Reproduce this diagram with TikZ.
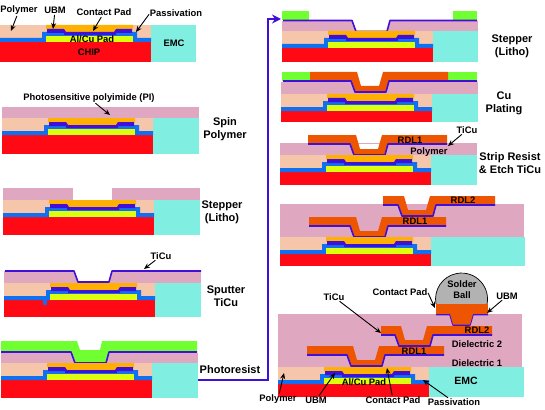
\documentclass[tikz,border=0pt]{standalone}
\usepackage{fontspec}
\setmainfont{Liberation Sans}
\usetikzlibrary{calc, positioning, arrows.meta}
\definecolor{peach}{RGB}{245, 198, 170}
\definecolor{pilayer}{RGB}{224, 168, 192}
\definecolor{chipred}{RGB}{255, 10, 20}
\definecolor{emcteal}{RGB}{128, 238, 224}
\definecolor{passblue}{RGB}{16, 112, 240}
\definecolor{padyellow}{RGB}{220, 255, 16}
\definecolor{ubmblue}{RGB}{64, 16, 216}
\definecolor{padorange}{RGB}{255, 176, 0}
\definecolor{resistgreen}{RGB}{112, 255, 48}
\definecolor{rdlorange}{RGB}{238, 85, 0}
\tikzset{
  lbl/.style={font=\fontsize{9.4}{10.5}\selectfont\bfseries, inner sep=0pt, align=center},
  biglbl/.style={font=\fontsize{11}{13}\selectfont\bfseries, inner sep=0pt, align=center},
  leader/.style={-{Stealth[length=6pt,width=5pt]}, line width=0.9pt, black, shorten <=1pt},
  flow/.style={-{Stealth[length=9pt,width=9pt]}, line width=1.8pt, ubmblue},
  film/.style={line width=1.6pt, ubmblue, line join=round}
}
% chip, passivation, pad, UBM and polymer: x, y, height, EMC width
\newcommand{\chipstack}[4]{
  \begin{scope}[shift={(#1,#2)}]
    \fill[peach] (0,0) rectangle (151,17);
    \fill[emcteal] (151,0) rectangle (151+#4,#3);
    \fill[chipred] (0,17) rectangle (151,#3);
    \fill[passblue] (0,13) -- (42,13) -- (42,7) -- (137,7) -- (137,13) -- (151,13) -- (151,17) -- (0,17) -- cycle;
    \fill[padyellow] (46,11) rectangle (133,17);
    \fill[padorange] (46,0) -- (133,0) -- (133,4) -- (116,4) -- (116,7) -- (64,7) -- (64,4) -- (46,4) -- cycle;
    \fill[ubmblue] (47,4) -- (64,4) -- (66,7) -- (114,7) -- (116,4) -- (132,4) -- (132,8) -- (116,8) -- (116,10) -- (64,10) -- (64,8) -- (47,8) -- cycle;
  \end{scope}
}
% TiCu seed line with one via: left, right, via x, level
\newcommand{\ticufilm}[4]{
  \draw[film] (#1,#4) -- (#3,#4) -- (#3+4,#4+11) -- (#3+35,#4+11) -- (#3+38,#4) -- (#2,#4);
}
\newcommand{\viahole}[3]{
  \fill[#3] (#1,#2) -- (#1+4,#2+11) -- (#1+35,#2+11) -- (#1+38,#2) -- cycle;
}
% copper line with notch over the via: left, right, via x, top
\newcommand{\rdlfill}[4]{
  \fill[rdlorange] (#1,#4) -- (#3+6,#4) -- (#3+10,#4+14) -- (#3+28,#4+14) -- (#3+32,#4) -- (#2,#4)
    -- (#2,#4+9) -- (#3+38,#4+9) -- (#3+35,#4+20) -- (#3+4,#4+20) -- (#3,#4+9) -- (#1,#4+9) -- cycle;
}
\newcommand{\rdlvia}[4]{
  \rdlfill{#1}{#2}{#3}{#4}
  \ticufilm{#1}{#2}{#3}{#4+9}
}
\begin{document}
\begin{tikzpicture}[x=1pt, y=-1pt]
  \useasboundingbox (0,0) rectangle (545,409);

  % left column
  \chipstack{0}{25}{37}{45}
  \node[lbl] (polyA) at (19,10.5) {Polymer};
  \node[lbl] (ubmA) at (55,10.5) {UBM};
  \node[lbl] (padA) at (104,12.5) {Contact Pad};
  \node[lbl] (passA) at (176,13.5) {Passivation};
  \node[lbl] (alA) at (92,39) {Al/Cu Pad};
  \node[lbl] (chipA) at (89,52) {CHIP};
  \node[lbl] (emcA) at (174,43) {EMC};
  \coordinate (polyAtip) at (11,31);
  \coordinate (ubmAtip) at (53,29);
  \coordinate (padAtip) at (93,31);
  \coordinate (passAtip) at (136,32);
  \draw[leader] (polyA) -- (polyAtip);
  \draw[leader] (ubmA) -- (ubmAtip);
  \draw[leader] (padA) -- (padAtip);
  \draw[leader] (passA.west) -- (passAtip);

  \fill[pilayer] (2,107) rectangle (199,118);
  \chipstack{2}{118}{36}{46}
  \node[lbl] (piB) at (89,98) {Photosensitive polyimide (PI)};
  \coordinate (piBtip) at (110,115);
  \draw[leader] (piB) -- (piBtip);
  \node[biglbl] (spin) at (225,129) {Spin\\Polymer};

  \fill[pilayer] (3,188) rectangle (73,200);
  \fill[pilayer] (112,188) rectangle (200,200);
  \chipstack{3}{200}{35}{46}
  \node[biglbl] (litho) at (222,212) {Stepper\\(Litho)};

  \fill[pilayer] (4,271) rectangle (201,283);
  \viahole{74}{271}{white}
  \ticufilm{5}{201}{74}{271}
  \chipstack{4}{283}{34}{46}
  \fill[passblue] (43,300) rectangle (47,305);
  \node[lbl] (ticuD) at (161,256) {TiCu};
  \coordinate (ticuDtip) at (144,269);
  \draw[leader] (ticuD) -- (ticuDtip);
  \node[biglbl] (sputter) at (226,296) {Sputter\\TiCu};

  \fill[pilayer] (1,353) rectangle (198,363);
  \fill[resistgreen] (1,341) -- (77,341) -- (80,350) -- (100,350) -- (102,341) -- (197,341) -- (197,352)
    -- (110,352) -- (107,362) -- (76,362) -- (72,352) -- (1,352) -- cycle;
  \ticufilm{1}{197}{71}{352}
  \chipstack{1}{363}{35}{46}
  \node[biglbl] (resist) at (230,370) {Photoresist};

  % right column
  \fill[pilayer] (282,21) rectangle (478,31);
  \fill[resistgreen] (282,11) rectangle (309,20);
  \fill[resistgreen] (453,11) rectangle (477,20);
  \viahole{352}{20.5}{white}
  \ticufilm{283}{477}{352}{20.5}
  \chipstack{282}{31}{31}{45}
  \node[biglbl] (lithoF) at (512,46.5) {Stepper\\(Litho)};

  \fill[pilayer] (281,82) rectangle (478,94);
  \fill[resistgreen] (282,72) rectangle (310,81);
  \fill[resistgreen] (448,72) rectangle (477,81);
  \viahole{351}{81}{white}
  \rdlfill{310}{448}{351}{72}
  \ticufilm{283}{477}{351}{81}
  \chipstack{281}{94}{28}{46}
  \node[biglbl] (plating) at (504,103.5) {Cu\\Plating};

  \fill[pilayer] (280,143) rectangle (477,155);
  \viahole{350}{144}{white}
  \rdlvia{308}{447}{350}{135}
  \chipstack{280}{155}{30}{46}
  \node[lbl] (rdlH) at (410,140) {RDL1};
  \node[lbl] (polyH) at (429,152) {Polymer};
  \node[lbl] (ticuH) at (467,130) {TiCu};
  \coordinate (ticuHtip) at (448,146);
  \draw[leader] (ticuH) -- (ticuHtip);
  \node[biglbl] (strip) at (510,163.5) {Strip Resist\\\&~Etch TiCu};

  \fill[pilayer] (280,204) rectangle (524,237);
  \rdlvia{309}{446}{350}{217}
  \rdlvia{383}{495}{398}{196}
  \chipstack{280}{237}{29}{94}
  \node[lbl] (rdlI) at (415,221) {RDL1};
  \node[lbl] (rdlII) at (463,200) {RDL2};

  % final package
  \fill[pilayer] (278,314) rectangle (522,367);
  \fill[gray!60] (436,304) arc[start angle=169, end angle=371, radius=26] -- cycle;
  \draw[line width=0.7pt] (436,304) arc[start angle=169, end angle=371, radius=26];
  \rdlvia{307}{444}{347}{346}
  \rdlvia{381}{492}{395}{326}
  \draw[film] (436,314.5) -- (450,314.5) -- (453,325) -- (470,325) -- (473,314.5) -- (488,314.5);
  \fill[rdlorange] (436,304) rectangle (488,314);
  \fill[rdlorange] (450,314) -- (453,324.5) -- (470,324.5) -- (473,314) -- cycle;
  \chipstack{278}{367}{30}{95}
  \node[lbl] (ball) at (462,289.5) {Solder\\Ball};
  \node[lbl] (padJ) at (400,292) {Contact Pad};
  \node[lbl] (ubmJ) at (507,296) {UBM};
  \node[lbl] (ticuJ) at (334,297) {TiCu};
  \node[lbl] (rdlJb) at (477,330) {RDL2};
  \node[lbl] (dieB) at (477,344) {Dielectric 2};
  \node[lbl] (rdlJa) at (414,351) {RDL1};
  \node[lbl] (dieA) at (477,363) {Dielectric 1};
  \node[font=\fontsize{10.5}{12}\selectfont\bfseries, inner sep=0pt] (emcJ) at (466,381) {EMC};
  \node[lbl] (alJ) at (364,382) {Al/Cu Pad};
  \node[lbl] (polyJ) at (278,399) {Polymer};
  \node[lbl] (ubmK) at (316,400) {UBM};
  \node[lbl] (padK) at (393,400) {Contact Pad};
  \node[lbl] (passJ) at (454,402) {Passivation};
  \coordinate (padJtip) at (435,308);
  \coordinate (ubmJtip) at (487,313);
  \coordinate (ticuJtip) at (381,333);
  \coordinate (polyJtip) at (284,373);
  \coordinate (ubmKtip) at (335,373);
  \coordinate (padKtip) at (387,368);
  \coordinate (passJtip) at (423,380);
  \draw[leader] (padJ.east) -- (padJtip);
  \draw[leader] (ubmJ) -- (ubmJtip);
  \draw[leader] (ticuJ) -- (ticuJtip);
  \draw[leader] (polyJ) -- (polyJtip);
  \draw[leader] (ubmK) -- (ubmKtip);
  \draw[leader] (padK) -- (padKtip);
  \draw[leader] (passJ) -- (passJtip);

  % flow from left column to right column
  \coordinate (flowout) at (198,380);
  \coordinate (flowturn) at (268,380);
  \coordinate (flowup) at (268,19);
  \coordinate (flowin) at (281,19);
  \draw[flow] (flowout) -- (flowturn) -- (flowup) -- (flowin);
\end{tikzpicture}
\end{document}
